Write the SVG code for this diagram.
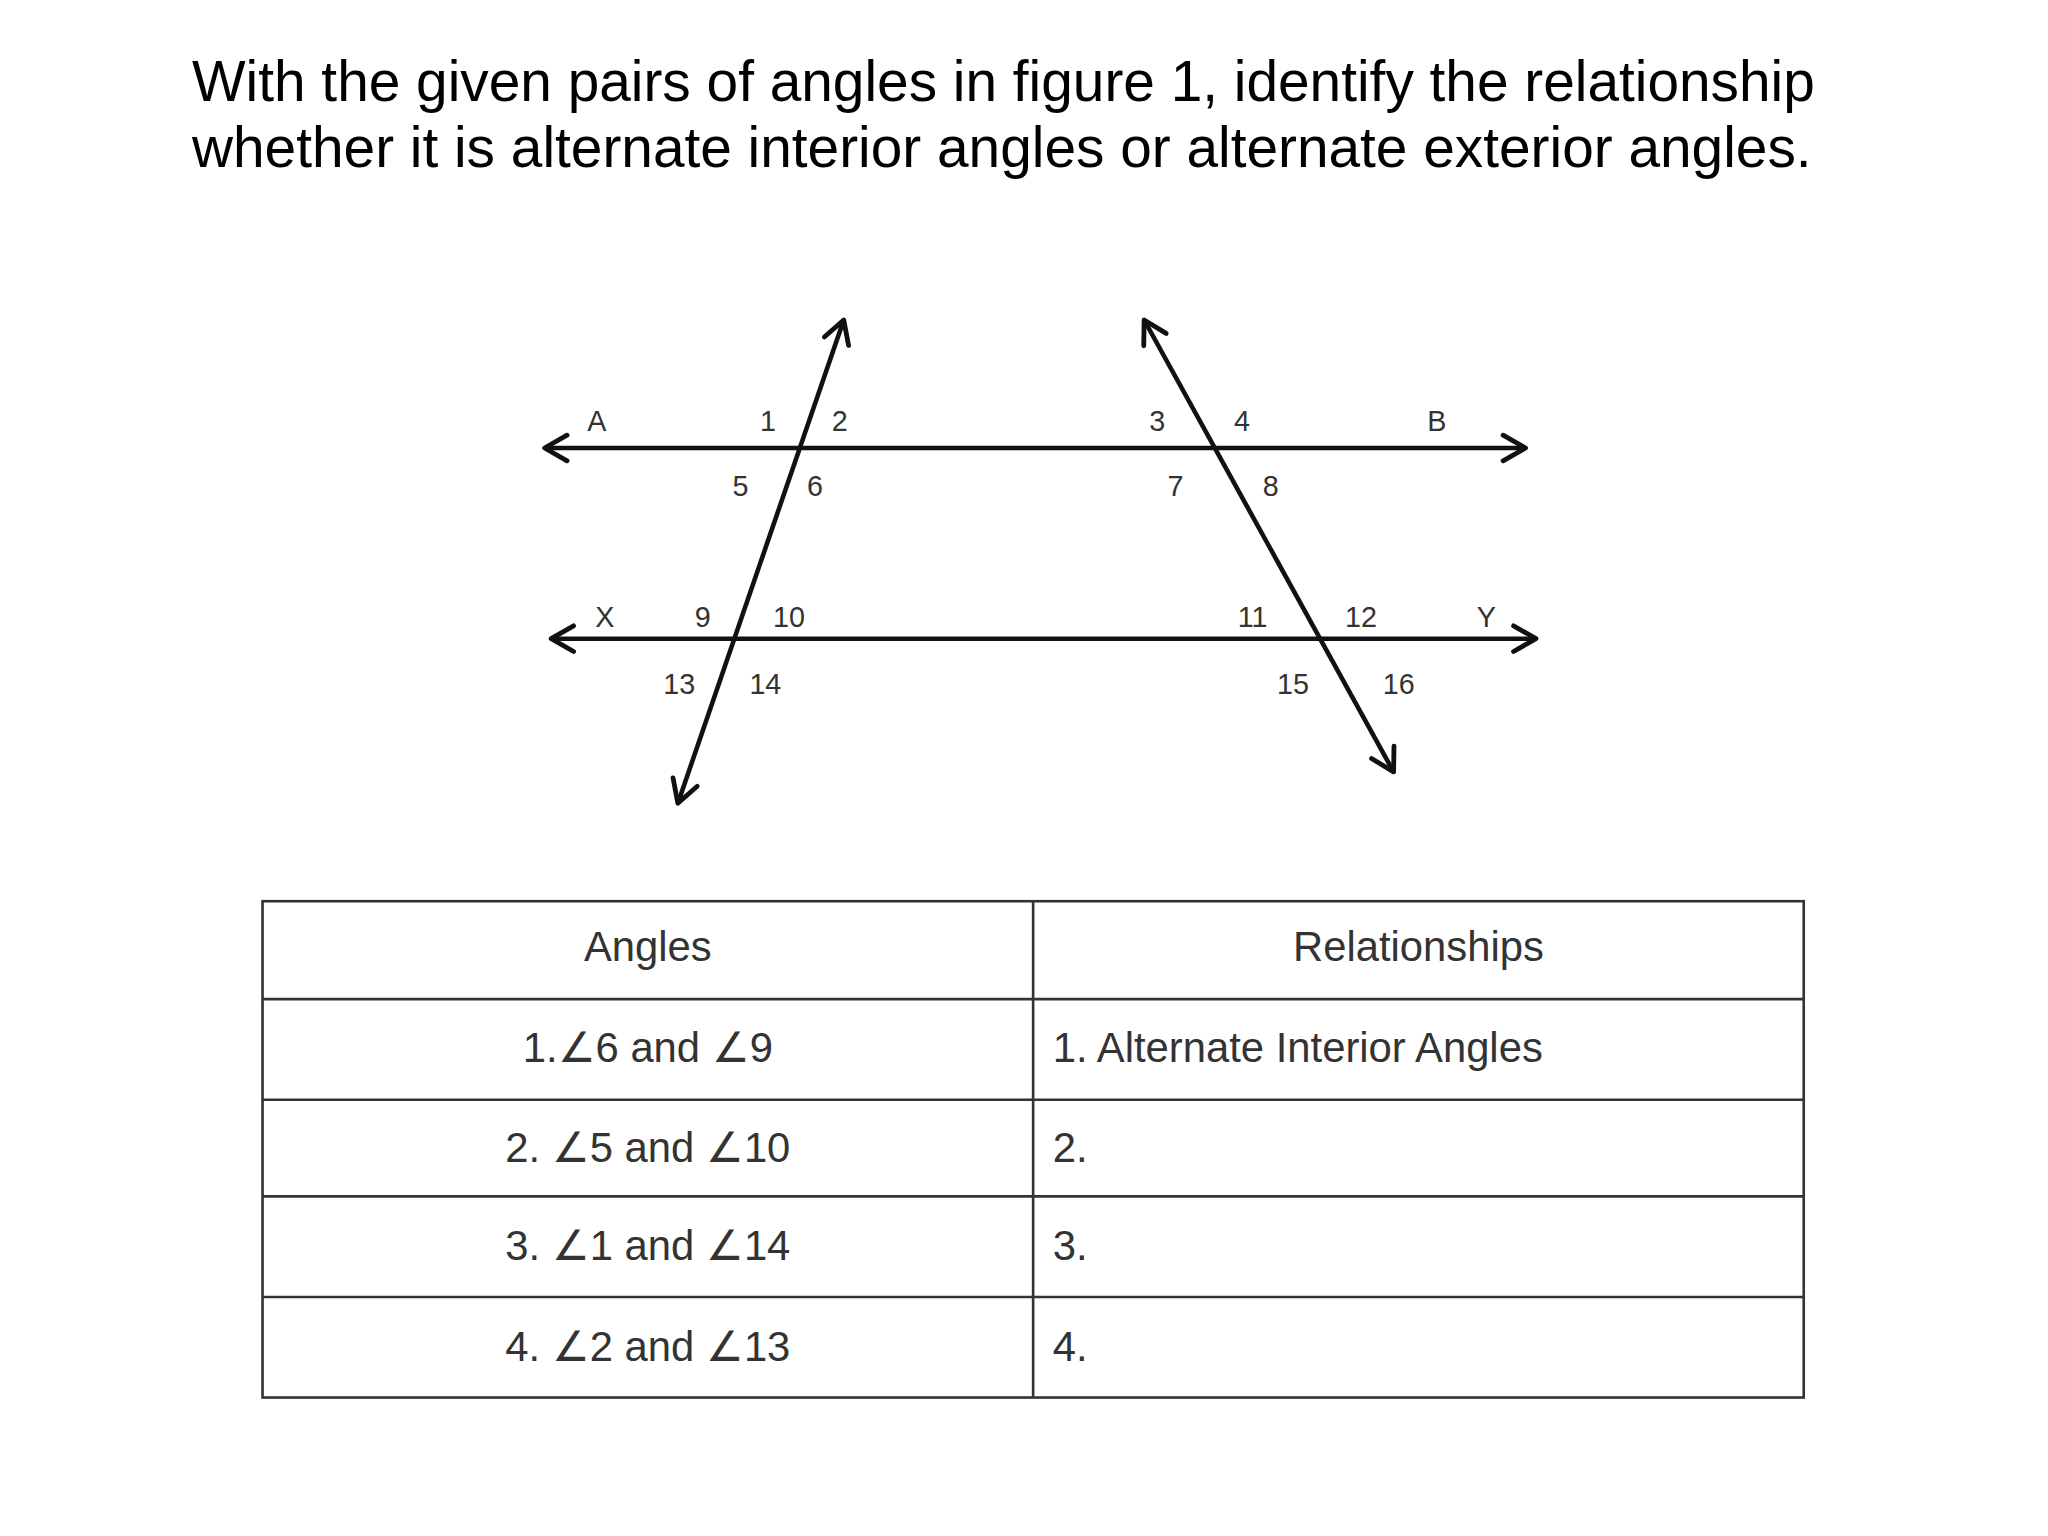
<svg xmlns="http://www.w3.org/2000/svg" width="2048" height="1536" viewBox="0 0 2048 1536">
<defs>
<marker id="ah" viewBox="0 0 20 20" refX="17" refY="10" markerWidth="7" markerHeight="7" markerUnits="strokeWidth" orient="auto-start-reverse">
<path d="M3 2 L17 10 L3 18" fill="none" stroke="#111" stroke-width="3" stroke-linecap="round" stroke-linejoin="round"/>
</marker>
<style>
.t{font-family:"Liberation Sans",Arial,sans-serif;font-size:43.5px;fill:#000}
.l{font-family:"Liberation Sans",Arial,sans-serif;font-size:22px;fill:#333;text-anchor:middle}
.c{font-family:"Liberation Sans",Arial,sans-serif;font-size:32px;fill:#333}
.m{text-anchor:middle}
.ln{stroke:#111;stroke-width:3.5;fill:none;marker-start:url(#ah);marker-end:url(#ah)}
.g{stroke:#333;stroke-width:2;fill:none}
</style>
</defs>
<rect width="2048" height="1536" fill="#fff"/>
<g transform="scale(1.3061)">
<g id="title">
<text class="t" x="147" y="77">With the given pairs of angles in figure 1, identify the relationship</text>
<text class="t" x="147" y="128">whether it is alternate interior angles or alternate exterior angles.</text>
</g>
<g id="connectors">
<line class="ln" x1="417" y1="343" x2="1168" y2="343"/>
<line class="ln" x1="422" y1="489" x2="1176" y2="489"/>
<line class="ln" x1="646" y1="245" x2="519" y2="615"/>
<line class="ln" x1="876" y1="245" x2="1067" y2="591"/>
</g>
<g id="labels">
<text class="l" x="457" y="330">A</text><text class="l" x="588" y="330">1</text><text class="l" x="643" y="330">2</text>
<text class="l" x="886" y="330">3</text><text class="l" x="951" y="330">4</text><text class="l" x="1100" y="330">B</text>
<text class="l" x="567" y="380">5</text><text class="l" x="624" y="380">6</text><text class="l" x="900" y="380">7</text><text class="l" x="973" y="380">8</text>
<text class="l" x="463" y="480">X</text><text class="l" x="538" y="480">9</text><text class="l" x="604" y="480">10</text>
<text class="l" x="959" y="480">11</text><text class="l" x="1042" y="480">12</text><text class="l" x="1138" y="480">Y</text>
<text class="l" x="520" y="531">13</text><text class="l" x="586" y="531">14</text><text class="l" x="990" y="531">15</text><text class="l" x="1071" y="531">16</text>
</g>
<g id="table">
<rect class="g" x="201" y="690" width="1180" height="380"/>
<line class="g" x1="791" y1="690" x2="791" y2="1070"/>
<line class="g" x1="201" y1="765" x2="1381" y2="765"/>
<line class="g" x1="201" y1="842" x2="1381" y2="842"/>
<line class="g" x1="201" y1="916" x2="1381" y2="916"/>
<line class="g" x1="201" y1="993" x2="1381" y2="993"/>
<text class="c m" x="496" y="736">Angles</text>
<text class="c m" x="1086" y="736">Relationships</text>
<text class="c m" x="496" y="813">1.∠6 and ∠9</text>
<text class="c" x="806" y="813">1. Alternate Interior Angles</text>
<text class="c m" x="496" y="890">2. ∠5 and ∠10</text>
<text class="c" x="806" y="890">2.</text>
<text class="c m" x="496" y="965">3. ∠1 and ∠14</text>
<text class="c" x="806" y="965">3.</text>
<text class="c m" x="496" y="1042">4. ∠2 and ∠13</text>
<text class="c" x="806" y="1042">4.</text>
</g>
</g>
</svg>
